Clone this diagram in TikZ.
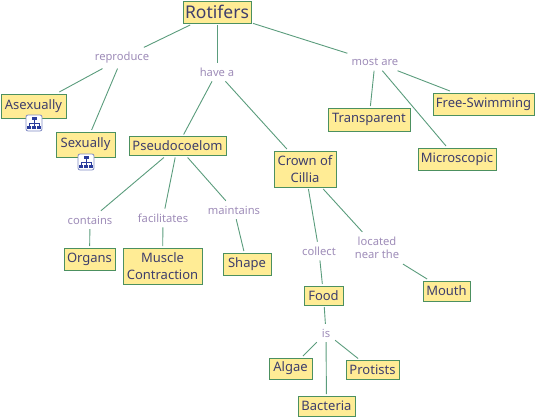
\documentclass[tikz,border=0pt]{standalone}
\usepackage{fontspec}
\setmainfont{Noto Sans}
\definecolor{boxfill}{HTML}{FFEC95}
\definecolor{boxline}{HTML}{4C9060}
\definecolor{linecol}{HTML}{5A9C7C}
\definecolor{txt}{HTML}{3E3E6C}
\definecolor{lab}{HTML}{9E8CB8}
\definecolor{icon}{HTML}{2A3C9C}
\tikzset{
  x=1pt,y=-1pt,
  cbox/.style={draw=boxline,line width=1pt,fill=boxfill,text=txt,font=\fontsize{13}{17}\selectfont,align=center,inner sep=0pt,outer sep=2pt},
  clab/.style={text=lab,font=\fontsize{11.2}{13.5}\selectfont,align=center,inner sep=2pt,outer sep=3pt},
  conn/.style={draw=linecol,line width=0.9pt},
  iconbox/.style={draw=icon!60!white,line width=0.8pt,fill=white,rounded corners=2pt,minimum size=16pt,inner sep=0pt},
}
\newcommand{\treeicon}[3]{%
  \node[iconbox] (#1) at (#2,#3) {};
  \draw[icon,line width=0.6pt] (#2,#3-3.5) -- (#2,#3) (#2-5,#3+3) -- (#2-5,#3) -- (#2+5,#3) -- (#2+5,#3+3) (#2,#3) -- (#2,#3+3);
  \fill[icon] (#2-2.5,#3-6) rectangle (#2+2.5,#3-3);
  \fill[icon] (#2-7,#3+2.5) rectangle (#2-3,#3+6);
  \fill[icon] (#2-2,#3+2.5) rectangle (#2+2,#3+6);
  \fill[icon] (#2+3,#3+2.5) rectangle (#2+7,#3+6);
}
\begin{document}
\begin{tikzpicture}
\useasboundingbox (0,0) rectangle (538,418);
% concept boxes
\node[cbox,minimum width=68pt,minimum height=22pt,font=\fontsize{17.5}{22}\selectfont] (rot) at (217,12) {Rotifers};
\node[cbox,minimum width=65pt,minimum height=24pt] (ase) at (33.5,106) {Asexually};
\node[cbox,minimum width=59pt,minimum height=25pt] (sex) at (85.5,144.5) {Sexually};
\node[cbox,minimum width=97pt,minimum height=19pt] (pse) at (177.5,146) {Pseudocoelom};
\node[cbox,minimum width=62pt,minimum height=36pt] (cro) at (305,169) {Crown of\\Cillia};
\node[cbox,minimum width=82pt,minimum height=23pt] (tra) at (369,119.5) {Transparent};
\node[cbox,minimum width=78pt,minimum height=22pt] (mic) at (457,159) {Microscopic};
\node[cbox,minimum width=101pt,minimum height=22pt] (fre) at (483.5,104) {Free-Swimming};
\node[cbox,minimum width=51pt,minimum height=22pt] (org) at (89.5,259) {Organs};
\node[cbox,minimum width=79pt,minimum height=36pt] (mus) at (162.5,266) {Muscle\\Contraction};
\node[cbox,minimum width=48pt,minimum height=22pt] (sha) at (247,264) {Shape};
\node[cbox,minimum width=39pt,minimum height=19pt] (foo) at (323.5,295.5) {Food};
\node[cbox,minimum width=47pt,minimum height=20pt] (mou) at (446.5,291) {Mouth};
\node[cbox,minimum width=43pt,minimum height=21pt] (alg) at (290.5,368.5) {Algae};
\node[cbox,minimum width=53pt,minimum height=19pt] (pro) at (372.5,370) {Protists};
\node[cbox,minimum width=57pt,minimum height=20pt] (bac) at (326.5,406) {Bacteria};
% linking phrases
\node[clab] (l1) at (122,58) {reproduce};
\node[clab] (l2) at (217,72) {have a};
\node[clab] (l3) at (375,62) {most are};
\node[clab] (l4) at (90,220) {contains};
\node[clab] (l5) at (163,218) {facilitates};
\node[clab] (l6) at (234,210) {maintains};
\node[clab] (l7) at (319,251) {collect};
\node[clab] (l8) at (377,248) {located\\near the};
\node[clab] (l9) at (326,333) {is};
% connectors
\foreach \a/\b in {rot/l1,rot/l2,rot/l3,l1/ase,l1/sex,l2/pse,l2/cro,l3/tra,l3/mic,l3/fre,pse/l4,pse/l5,pse/l6,l4/org,l5/mus,l6/sha,cro/l7,cro/l8,l7/foo,l8/mou,foo/l9,l9/alg,l9/pro,l9/bac}
  \draw[conn] (\a) -- (\b);
% icons
\treeicon{ic1}{34}{123}
\treeicon{ic2}{86}{162}
\end{tikzpicture}
\end{document}
